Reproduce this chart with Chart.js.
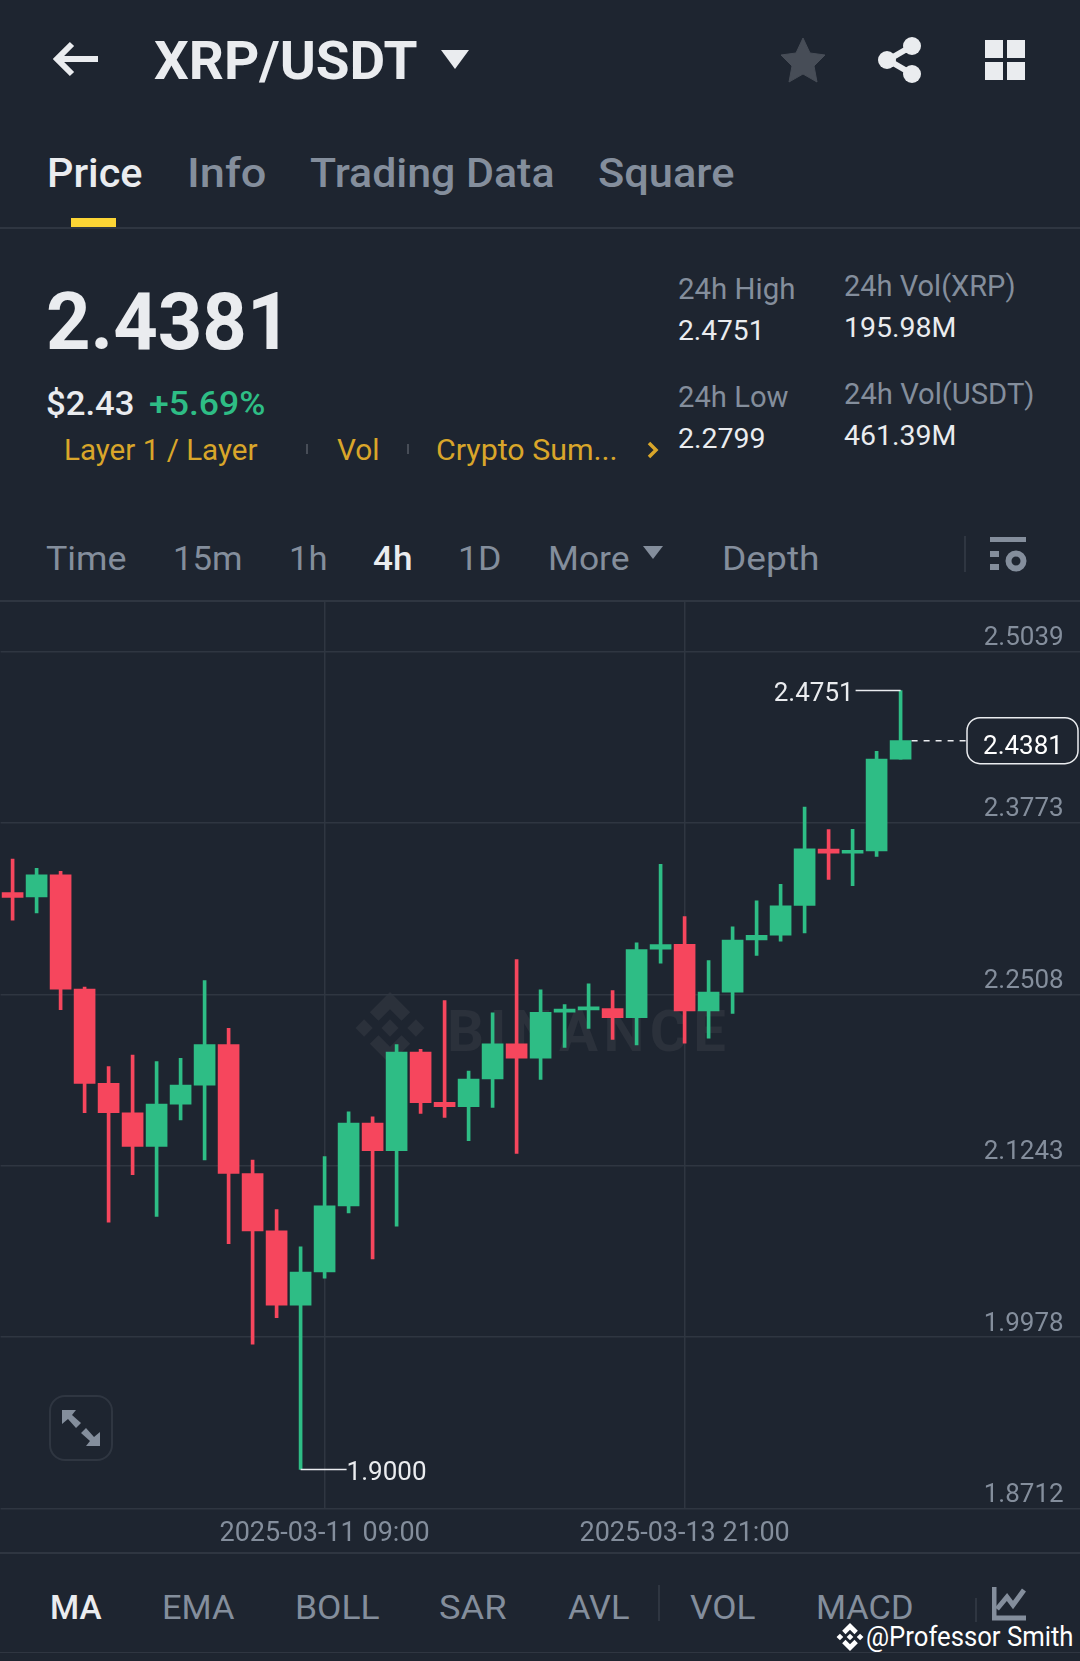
<!DOCTYPE html>
<html>
<head>
<meta charset="utf-8">
<title>XRP/USDT</title>
<script src="https://cdn.jsdelivr.net/npm/chart.js@4/dist/chart.umd.min.js"></script>
<style>
    html, body { margin: 0; padding: 0; background: #1e2530; }
    body { position: relative; width: 1080px; height: 1661px; overflow: hidden; font-family: Roboto, sans-serif; }
    .txt { position: absolute; white-space: nowrap; line-height: 1; transform-origin: left center; }
    .rule { position: absolute; left: 0; width: 1080px; background: #2f3641; }
    .abs { position: absolute; }
    #chartCanvas { position: absolute; left: 0; top: 601px; z-index: 2; }
    #watermark { position: absolute; left: 447px; top: 1031px; z-index: 1; font-size: 58px; font-weight: 700; color: #2b313b; white-space: nowrap; line-height: 1; transform: translateY(-50%); letter-spacing: 5.5px; }
</style>
</head>
<body>

<!-- header icons -->
<svg class="abs" style="left:52px;top:41px" width="48" height="36" viewBox="0 0 48 36">
    <path d="M20 3 L5 18 L20 33 M6 18 H46" fill="none" stroke="#eaecef" stroke-width="6"/>
</svg>
<svg class="abs" style="left:441px;top:50px" width="28" height="19"><path d="M0 0 H28 L14 19 Z" fill="#eaecef"/></svg>
<svg class="abs" style="left:780px;top:37px" width="46" height="46" viewBox="0 0 46 46">
    <path d="M23 1 L30 16 L45 18 L34 29 L37 45 L23 37 L9 45 L12 29 L1 18 L16 16 Z" fill="#474d57" stroke="#474d57" stroke-width="1" stroke-linejoin="round"/>
</svg>
<svg class="abs" style="left:878px;top:37px" width="44" height="46" viewBox="0 0 44 46">
    <path d="M34 9 L10 23 L34 37" fill="none" stroke="#eaecef" stroke-width="6"/>
    <circle cx="34" cy="9" r="9" fill="#eaecef"/><circle cx="9" cy="23" r="9" fill="#eaecef"/><circle cx="34" cy="37" r="9" fill="#eaecef"/>
</svg>
<svg class="abs" style="left:985px;top:40px" width="40" height="40" fill="#eaecef">
    <rect width="18" height="18"/><rect x="22" width="18" height="18"/><rect y="22" width="18" height="18"/><rect x="22" y="22" width="18" height="18"/>
</svg>

<div class="abs" style="left:71px;top:218px;width:45px;height:9px;background:#fcd535"></div>
<div class="rule" style="top:227px;height:2px"></div>
<div class="rule" style="top:600px;height:2px"></div>
<div class="rule" style="top:1552px;height:2px"></div>
<div class="rule" style="top:1652px;height:1px"></div>

<!-- little separators and icons in the info and interval rows -->
<div class="abs" style="left:306px;top:444px;width:2px;height:10px;background:#474d57"></div>
<div class="abs" style="left:407px;top:444px;width:2px;height:10px;background:#474d57"></div>
<svg class="abs" style="left:646px;top:441px" width="14" height="18"><path d="M3 2 L10 9 L3 16" fill="none" stroke="#d9a62a" stroke-width="3.5"/></svg>
<svg class="abs" style="left:643px;top:546px" width="20" height="13"><path d="M0 0 H20 L10 13 Z" fill="#848e9c"/></svg>
<div class="abs" style="left:964px;top:536px;width:2px;height:36px;background:#2f3641"></div>
<svg class="abs" style="left:990px;top:537px" width="38" height="36" fill="#848e9c">
    <rect width="36" height="5"/><rect y="14" width="9" height="6"/><rect y="27" width="9" height="6"/>
    <circle cx="26" cy="24" r="7.5" fill="none" stroke="#848e9c" stroke-width="6"/>
</svg>

<!-- expand button -->
<div class="abs" style="left:49px;top:1395px;width:60px;height:62px;border:2px solid #2f3641;border-radius:16px"></div>
<svg class="abs" style="left:61px;top:1409px" width="40" height="38" viewBox="0 0 40 38" fill="#848e9c">
    <path d="M1 1 H15 L11 6 L20 14 L15 19 L7 10 L1 15 Z"/>
    <path d="M39 37 H25 L29 32 L20 24 L25 19 L33 28 L39 23 Z"/>
</svg>

<!-- watermark behind the candles -->
<svg class="abs" style="left:352px;top:992px;z-index:1" width="76" height="72" viewBox="0 0 100 100" fill="#2b313b">
    <path d="M50 0 L78 28 L66 40 L50 24 L34 40 L22 28 Z"/>
    <path d="M50 100 L78 72 L66 60 L50 76 L34 60 L22 72 Z"/>
    <path d="M50 38 L62 50 L50 62 L38 50 Z"/>
    <path d="M14 38 L26 50 L14 62 L2 50 Z"/>
    <path d="M86 38 L98 50 L86 62 L74 50 Z"/>
</svg>
<div id="watermark">BINANCE</div>

<!-- footer separators and icon -->
<div class="abs" style="left:658px;top:1585px;width:2px;height:36px;background:#2f3641"></div>
<div class="abs" style="left:975px;top:1598px;width:2px;height:24px;background:#2f3641"></div>
<svg class="abs" style="left:992px;top:1587px" width="34" height="34" fill="none" stroke="#848e9c" stroke-width="5">
    <path d="M2 0 V31 H34"/><path d="M5 22 L15 10 L21 18 L32 3"/>
</svg>
<svg class="abs" style="left:836px;top:1622px;z-index:3" width="28" height="30" viewBox="0 0 100 100" fill="#ffffff">
    <path d="M50 0 L78 28 L66 40 L50 24 L34 40 L22 28 Z"/>
    <path d="M50 100 L78 72 L66 60 L50 76 L34 60 L22 72 Z"/>
    <path d="M50 38 L62 50 L50 62 L38 50 Z"/>
    <path d="M14 38 L26 50 L14 62 L2 50 Z"/>
    <path d="M86 38 L98 50 L86 62 L74 50 Z"/>
</svg>

<canvas id="chartCanvas" width="1081" height="952"></canvas>

<script>
// --- Chart data ---
const categories = [
    '2025-03-09 05:00', '2025-03-09 09:00', '2025-03-09 13:00', '2025-03-09 17:00', '2025-03-09 21:00',
    '2025-03-10 01:00', '2025-03-10 05:00', '2025-03-10 09:00', '2025-03-10 13:00', '2025-03-10 17:00', '2025-03-10 21:00',
    '2025-03-11 01:00', '2025-03-11 05:00', '2025-03-11 09:00', '2025-03-11 13:00', '2025-03-11 17:00', '2025-03-11 21:00',
    '2025-03-12 01:00', '2025-03-12 05:00', '2025-03-12 09:00', '2025-03-12 13:00', '2025-03-12 17:00', '2025-03-12 21:00',
    '2025-03-13 01:00', '2025-03-13 05:00', '2025-03-13 09:00', '2025-03-13 13:00', '2025-03-13 17:00', '2025-03-13 21:00',
    '2025-03-14 01:00', '2025-03-14 05:00', '2025-03-14 09:00', '2025-03-14 13:00', '2025-03-14 17:00', '2025-03-14 21:00',
    '2025-03-15 01:00', '2025-03-15 05:00', '2025-03-15 09:00', '2025-03-15 13:00', '2025-03-15 17:00', '2025-03-15 21:00',
    '2025-03-16 01:00', '2025-03-16 05:00', '2025-03-16 09:00', '2025-03-16 13:00'
];
const opens = [
    2.3260, 2.3228, 2.3391, 2.2546, 2.1851, 2.1634, 2.1385, 2.1698, 2.1838, 2.2137,
    2.1185, 2.0762, 2.0214, 2.0458, 2.0946, 2.1558, 2.1353, 2.2082, 2.1710, 2.1678,
    2.1883, 2.2142, 2.2036, 2.2376, 2.2393, 2.2403, 2.2336, 2.2841, 2.2878, 2.2386,
    2.2524, 2.2910, 2.2945, 2.3164, 2.3581, 2.3551, 2.3566, 2.4244
];
const closes = [
    2.3223, 2.3391, 2.2546, 2.1851, 2.1634, 2.1385, 2.1698, 2.1838, 2.2137, 2.1185,
    2.0762, 2.0214, 2.0458, 2.0946, 2.1558, 2.1353, 2.2082, 2.1708, 2.1678, 2.1883,
    2.2142, 2.2036, 2.2376, 2.2400, 2.2415, 2.2336, 2.2839, 2.2876, 2.2386, 2.2524,
    2.2908, 2.2943, 2.3162, 2.3583, 2.3551, 2.3571, 2.4244, 2.4381
];
const highs = [
    2.3507, 2.3438, 2.3416, 2.2561, 2.1974, 2.2060, 2.2011, 2.2036, 2.2610, 2.2257,
    2.1284, 2.0919, 2.0643, 2.1311, 2.1641, 2.1604, 2.2137, 2.2102, 2.2462, 2.1942,
    2.2371, 2.2765, 2.2541, 2.2432, 2.2585, 2.2536, 2.2888, 2.3467, 2.3083, 2.2758,
    2.3007, 2.3199, 2.3320, 2.3891, 2.3724, 2.3726, 2.4303, 2.4751
];
const lows = [
    2.3056, 2.3110, 2.2395, 2.1634, 2.0826, 2.1176, 2.0868, 2.1580, 2.1286, 2.0668,
    1.9926, 2.0121, 1.9000, 2.0412, 2.0895, 2.0555, 2.0796, 2.1629, 2.1600, 2.1427,
    2.1673, 2.1333, 2.1880, 2.2117, 2.2257, 2.2176, 2.2134, 2.2738, 2.2147, 2.2184,
    2.2368, 2.2795, 2.2901, 2.2962, 2.3356, 2.3310, 2.3526, 2.4244
];
const priceTicks = [1.8712, 1.9978, 2.1243, 2.2508, 2.3773, 2.5039];
const timeTicks = ['2025-03-11 09:00', '2025-03-13 21:00'];
const lastPrice = 2.4381;
const highPrice = 2.4751;
const lowPrice = 1.9000;

// --- Page text: [text, left, right, middle y, size, colour, weight] ---
const WHITE = '#eaecef';
const GREY = '#848e9c';
const GOLD = '#d9a62a';
const pageTexts = [
    ['XRP/USDT', 154, 416, 61, 53, WHITE, 700],
    ['Price', 47, 141, 174, 40, WHITE, 500],
    ['Info', 187, 265, 174, 40, GREY, 500],
    ['Trading Data', 310, 553, 174, 40, GREY, 500],
    ['Square', 598, 733, 174, 40, GREY, 500],
    ['2.4381', 46, 290, 322, 80, WHITE, 700],
    ['$2.43', 46, 133, 403, 34, WHITE, 500],
    ['+5.69%', 149, 264, 403, 34, '#2ebd85', 500],
    ['Layer 1 / Layer', 64, 256, 450, 30, GOLD, 400],
    ['Vol', 337, 378, 450, 30, GOLD, 400],
    ['Crypto Sum...', 436, 616, 450, 30, GOLD, 400],
    ['24h High', 678, 794, 289, 29, GREY, 400],
    ['2.4751', 678, 763, 331, 28, WHITE, 400],
    ['24h Low', 678, 787, 397, 29, GREY, 400],
    ['2.2799', 678, 764, 439, 28, WHITE, 400],
    ['24h Vol(XRP)', 844, 1014, 286, 29, GREY, 400],
    ['195.98M', 844, 955, 328, 28, WHITE, 400],
    ['24h Vol(USDT)', 844, 1033, 394, 29, GREY, 400],
    ['461.39M', 844, 955, 436, 28, WHITE, 400],
    ['Time', 46, 125, 558, 34, GREY, 400],
    ['15m', 173, 241, 558, 34, GREY, 400],
    ['1h', 289, 326, 558, 34, GREY, 400],
    ['4h', 373, 411, 558, 34, WHITE, 500],
    ['1D', 458, 500, 558, 34, GREY, 400],
    ['More', 548, 628, 558, 34, GREY, 400],
    ['Depth', 722, 818, 558, 34, GREY, 400],
    ['MA', 50, 100, 1607, 34, WHITE, 500],
    ['EMA', 162, 233, 1607, 34, GREY, 400],
    ['BOLL', 295, 378, 1607, 34, GREY, 400],
    ['SAR', 439, 505, 1607, 34, GREY, 400],
    ['AVL', 568, 628, 1607, 34, GREY, 400],
    ['VOL', 690, 754, 1607, 34, GREY, 400],
    ['MACD', 816, 912, 1607, 34, GREY, 400],
    ['@Professor Smith', 866, 1072, 1637, 28, '#ffffff', 400]
];

// left and right are ink edges, the text box has a little side bearing on each side
pageTexts.forEach(([text, left, right, midY, size, color, weight]) => {
    const el = document.createElement('div');
    el.className = 'txt';
    el.textContent = text;
    el.style.cssText = `left:${left}px;top:${midY - size / 2}px;font-size:${size}px;color:${color};font-weight:${weight};z-index:3`;
    document.body.appendChild(el);
    el.style.transform = `scaleX(${(right - left + 1.5) / el.getBoundingClientRect().width})`;
});

// --- Candles ---
const GREEN = '#2ebd85';
const RED = '#f6465d';
const candleColors = opens.map((o, i) => (closes[i] >= o ? GREEN : RED));

// High, low and last price markers, placed through the chart's scales
const priceMarkers = {
    id: 'priceMarkers',
    afterDatasetsDraw(chart) {
        const { ctx, scales: { x, y } } = chart;
        const last = opens.length - 1;
        const lowIndex = lows.indexOf(lowPrice);

        ctx.save();
        ctx.font = '400 26px Roboto';
        ctx.textBaseline = 'middle';
        ctx.strokeStyle = WHITE;
        ctx.fillStyle = WHITE;
        ctx.lineWidth = 1.5;

        // 24h high
        const highY = y.getPixelForValue(highPrice);
        const highX = x.getPixelForValue(last);
        ctx.beginPath();
        ctx.moveTo(highX - 45, highY);
        ctx.lineTo(highX, highY);
        ctx.stroke();
        ctx.textAlign = 'right';
        ctx.fillText(highPrice.toFixed(4), highX - 47, highY + 4);

        // lowest point
        const lowY = y.getPixelForValue(lowPrice);
        const lowX = x.getPixelForValue(lowIndex);
        ctx.beginPath();
        ctx.moveTo(lowX, lowY);
        ctx.lineTo(lowX + 46, lowY);
        ctx.stroke();
        ctx.textAlign = 'left';
        ctx.fillText(lowPrice.toFixed(4), lowX + 46, lowY + 4);

        // last price with dashed line and tag
        const tagY = y.getPixelForValue(lastPrice);
        ctx.setLineDash([6, 6]);
        ctx.beginPath();
        ctx.moveTo(highX + 11, tagY);
        ctx.lineTo(967, tagY);
        ctx.stroke();
        ctx.setLineDash([]);
        ctx.beginPath();
        ctx.roundRect(967, tagY - 23, 111, 46, 13);
        ctx.fillStyle = '#1e2530';
        ctx.fill();
        ctx.stroke();
        ctx.fillStyle = '#ffffff';
        ctx.textAlign = 'center';
        ctx.fillText(lastPrice.toFixed(4), 1023, tagY + 7);
        ctx.restore();
    }
};

// The labels sit inside the plot here, so the axes must not reserve any room for them
const noAxisPadding = scale => {
    scale.paddingTop = scale.paddingBottom = scale.paddingLeft = scale.paddingRight = 0;
};

new Chart(document.getElementById('chartCanvas'), {
    type: 'bar',
    data: {
        labels: categories,
        datasets: [
            {
                label: 'Body',
                data: opens.map((o, i) => [o, closes[i]]),
                backgroundColor: candleColors,
                barThickness: 21,
                grouped: false,
                order: 1
            },
            {
                label: 'Wick',
                data: lows.map((l, i) => [l, highs[i]]),
                backgroundColor: candleColors,
                barThickness: 3,
                grouped: false,
                order: 2
            }
        ]
    },
    options: {
        responsive: false,
        animation: false,
        events: [],
        layout: { padding: { left: 0.6, right: 0.4 }, autoPadding: false },
        plugins: { legend: { display: false }, tooltip: { enabled: false } },
        scales: {
            x: {
                offset: true,
                afterBuildTicks: scale => {
                    scale.ticks = scale.ticks.filter(t => timeTicks.includes(categories[t.value]));
                },
                afterFit: scale => {
                    scale.height = 44.5;
                    noAxisPadding(scale);
                },
                grid: { offset: false, color: '#2f3641', lineWidth: 1.5, drawTicks: false },
                border: { display: false },
                ticks: {
                    autoSkip: false,
                    maxRotation: 0,
                    padding: 10,
                    color: GREY,
                    font: { family: 'Roboto', size: 27 }
                }
            },
            y: {
                position: 'right',
                min: 1.8712,
                max: 2.5412,
                afterBuildTicks: scale => {
                    scale.ticks = priceTicks.map(value => ({ value }));
                },
                afterFit: scale => {
                    scale.width = 0;
                    noAxisPadding(scale);
                },
                grid: { color: '#2f3641', lineWidth: 1.5, drawTicks: false },
                border: { display: false },
                ticks: {
                    mirror: true,
                    padding: -17,
                    labelOffset: -13,
                    color: GREY,
                    font: { family: 'Roboto', size: 26 },
                    callback: value => value.toFixed(4)
                }
            }
        }
    },
    plugins: [priceMarkers]
});
</script>
</body>
</html>
